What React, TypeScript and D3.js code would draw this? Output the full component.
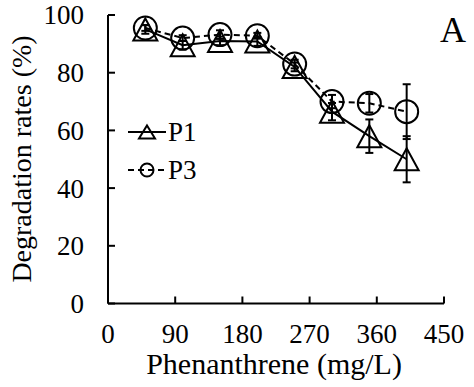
import React from 'react';
import * as d3 from 'd3';

const W = 474, H = 387;
const X0 = 108, X1 = 444, Y0 = 303.5, Y1 = 15;
const FONT = "'Liberation Serif', 'DejaVu Serif', 'Times New Roman', Times, serif";

const conc = [50, 100, 150, 200, 250, 300, 350, 400];
const p1 = [95, 89.5, 91, 90.8, 82, 66.5, 58, 50];
const p1Err = [1.5, 1.5, 1.5, 1.5, 1.5, 3, 5.8, 8];
const p3 = [95.5, 92, 93.2, 92.8, 83, 70, 69.4, 66.5];
const p3Err = [1, 1, 1.5, 1, 1.5, 2.3, 3.2, 9.5];
const xTicks = [0, 90, 180, 270, 360, 450];
const yTicks = [0, 20, 40, 60, 80, 100];

const x = d3.scaleLinear().domain([0, 450]).range([X0, X1]);
const y = d3.scaleLinear().domain([0, 100]).range([Y0, Y1]);

const tri = (cx: number, cy: number, w: number, h: number) =>
  `M${cx},${cy - h / 2}L${cx + w / 2},${cy + h / 2}L${cx - w / 2},${cy + h / 2}Z`;

export default function App() {
  const line = d3.line<number>().x((_, i) => x(conc[i])).y(d => y(d));
  const stroke = '#000';

  const errBars = (vals: number[], errs: number[], key: string) =>
    vals.map((v, i) => {
      const cx = x(conc[i]);
      const t = y(v + errs[i]), b = y(v - errs[i]);
      return (
        <g key={key + i} stroke={stroke} strokeWidth={2}>
          <line x1={cx} x2={cx} y1={t} y2={b} />
          <line x1={cx - 4} x2={cx + 4} y1={t} y2={t} />
          <line x1={cx - 4} x2={cx + 4} y1={b} y2={b} />
        </g>
      );
    });

  return (
    <svg width={W} height={H} style={{ position: 'absolute', left: 0, top: 0, background: '#fff', fontFamily: FONT }}>
      {/* axes */}
      <g stroke={stroke} strokeWidth={2} fill="none">
        <line x1={X0} x2={X0} y1={Y1} y2={Y0} />
        <line x1={X0} x2={X1} y1={Y0} y2={Y0} />
        {yTicks.map(t => <line key={'yt' + t} x1={X0} x2={X0 + 7} y1={y(t)} y2={y(t)} />)}
        {xTicks.map(t => <line key={'xt' + t} x1={x(t)} x2={x(t)} y1={Y0} y2={Y0 - 7} />)}
      </g>
      {yTicks.map(t => (
        <text key={'yl' + t} x={84} y={y(t)} dy="0.35em" textAnchor="end" fontSize={27}>{t}</text>
      ))}
      {xTicks.map(t => (
        <text key={'xl' + t} x={x(t)} y={343} textAnchor="middle" fontSize={27}>{t}</text>
      ))}
      <text x={274} y={374} textAnchor="middle" fontSize={30}>Phenanthrene (mg/L)</text>
      <text transform="translate(31,159) rotate(-90)" textAnchor="middle" fontSize={28}>Degradation rates (%)</text>
      <text x={453} y={42} textAnchor="middle" fontSize={36}>A</text>

      {/* series */}
      <path d={line(p1) ?? ''} fill="none" stroke={stroke} strokeWidth={2} />
      <path d={line(p3) ?? ''} fill="none" stroke={stroke} strokeWidth={2} strokeDasharray="6,4" />
      {errBars(p1, p1Err, 'e1')}
      {errBars(p3, p3Err, 'e3')}
      {p1.map((v, i) => (
        <path key={'m1' + i} d={tri(x(conc[i]), y(v), 24, 22)} fill="none" stroke={stroke} strokeWidth={2} />
      ))}
      {p3.map((v, i) => (
        <circle key={'m3' + i} cx={x(conc[i])} cy={y(v)} r={11.5} fill="none" stroke={stroke} strokeWidth={2} />
      ))}

      {/* legend */}
      <g stroke={stroke} strokeWidth={2} fill="none">
        <line x1={128} x2={166} y1={132} y2={132} />
        <path d={tri(147, 132, 16, 13)} />
        <line x1={128} x2={166} y1={170} y2={170} strokeDasharray="6,4" />
        <circle cx={147} cy={170} r={6.5} />
      </g>
      <text x={168} y={132} dy="0.35em" fontSize={27}>P1</text>
      <text x={168} y={170} dy="0.35em" fontSize={27}>P3</text>
    </svg>
  );
}
